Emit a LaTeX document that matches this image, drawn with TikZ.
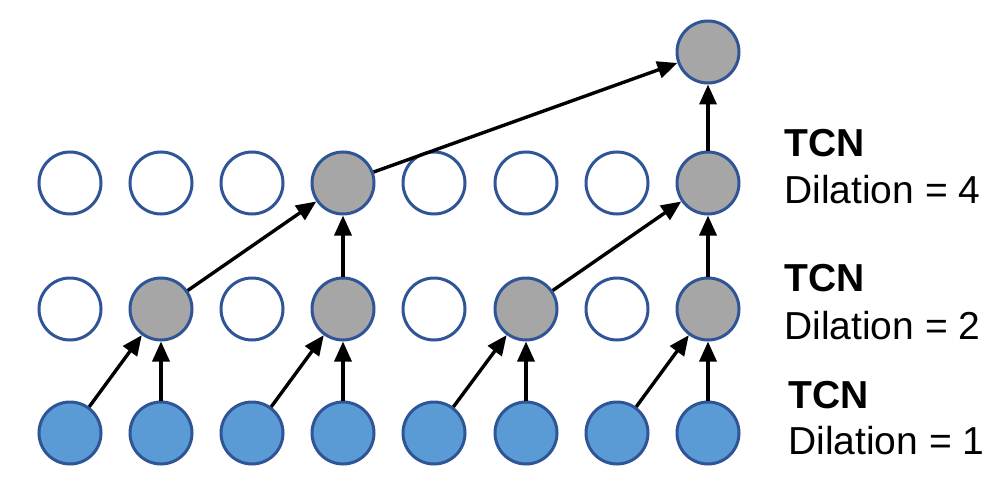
\documentclass[tikz,border=0pt]{standalone}
\usepackage{fontspec}
\setmainfont{Liberation Sans}
\usetikzlibrary{arrows.meta}
\begin{document}
\begin{tikzpicture}[x=1pt,y=-1pt,
  cell/.style={circle,line width=3pt,minimum size=62pt,inner sep=0pt,draw={rgb,255:red,47;green,85;blue,151}},
  empty/.style={cell,fill=white},
  grey/.style={cell,fill={rgb,255:red,166;green,166;blue,166}},
  inp/.style={cell,fill={rgb,255:red,91;green,155;blue,213}},
  arr/.style={-{Triangle[length=20pt,width=17pt]},line width=3.4pt},
  lab/.style={font=\fontsize{39}{46}\selectfont,anchor=west,inner sep=0pt},
  blab/.style={lab,font=\fontsize{39}{46}\selectfont\bfseries}]
\useasboundingbox (0,0) rectangle (998,484);
\foreach \i/\x in {0/70,1/161,2/252,3/343,4/434,5/526,6/617,7/708}{
  \node[inp] (b\i) at (\x,433) {};
}
\foreach \i/\x in {0/70,2/252,4/434,6/617}{
  \node[empty] (m\i) at (\x,309) {};
}
\foreach \i/\x in {1/161,3/343,5/526,7/708}{
  \node[grey] (m\i) at (\x,309) {};
}
\foreach \i/\x in {0/70,1/161,2/252,4/434,5/526,6/617}{
  \node[empty] (t\i) at (\x,183) {};
}
\node[grey] (t3) at (343,183) {};
\node[grey] (t7) at (708,183) {};
\node[grey] (top) at (708,52) {};
\foreach \a/\b in {0/1,1/1,2/3,3/3,4/5,5/5,6/7,7/7}{
  \draw[arr] (b\a) -- (m\b);
}
\foreach \a/\b in {1/3,3/3,5/7,7/7}{
  \draw[arr] (m\a) -- (t\b);
}
\draw[arr] (t3) -- (top);
\draw[arr] (t7) -- (top);
\node[blab] (l4a) at (784,143) {TCN};
\node[lab] (l4b) at (784,190) {Dilation = 4};
\node[blab] (l2a) at (784,278) {TCN};
\node[lab] (l2b) at (784,326) {Dilation = 2};
\node[blab] (l1a) at (788,395) {TCN};
\node[lab] (l1b) at (788,441) {Dilation = 1};
\end{tikzpicture}
\end{document}
